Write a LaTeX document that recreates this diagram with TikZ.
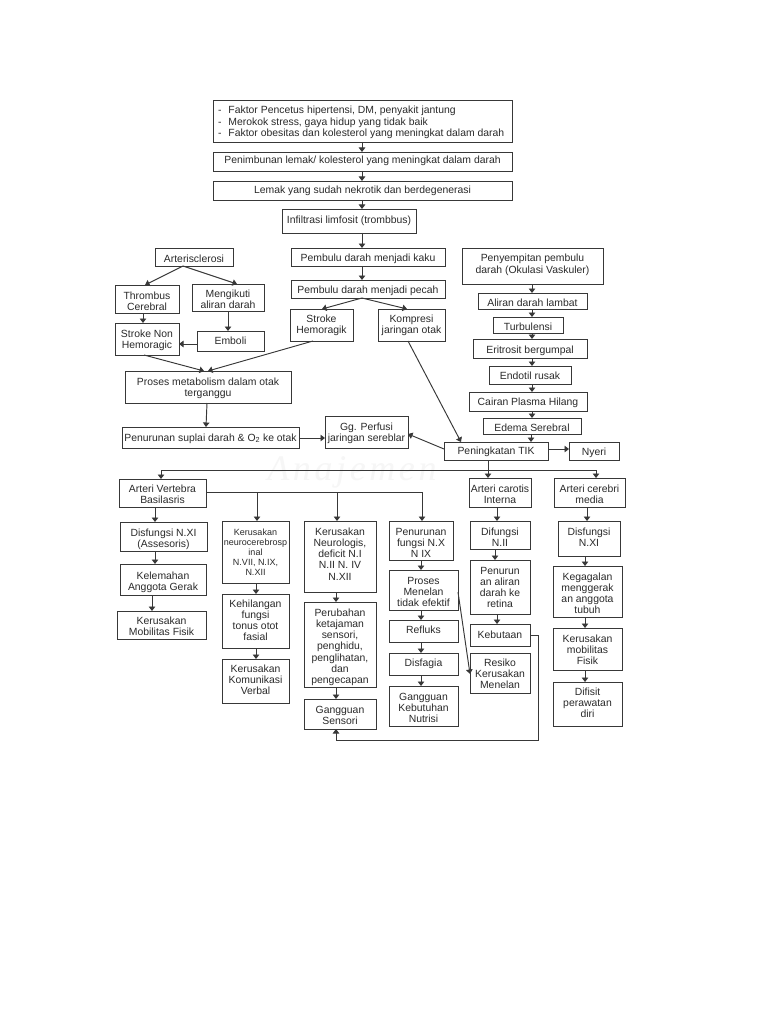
\documentclass[tikz,border=0pt]{standalone}
\usepackage{fontspec}
\setmainfont{Liberation Sans}
\newfontfamily\wmfont[LetterSpace=10]{Liberation Serif}
\usetikzlibrary{arrows.meta}
\definecolor{ink}{HTML}{383838}
\definecolor{txt}{HTML}{2A2A2A}
\definecolor{wm}{HTML}{F6F6F6}
\tikzset{
  boxst/.style={draw=ink,line width=0.95pt,inner sep=0pt,outer sep=0pt,text=txt,rectangle},
  arr/.style={draw=ink,line width=0.95pt,-{Triangle[length=4.5pt,width=6.5pt]}},
}
\newcommand{\txtsize}{\fontsize{10.4}{11.3}\selectfont}
\newcommand{\bx}[8][\txtsize]{%
  \pgfmathsetmacro\bw{#5-#3}\pgfmathsetmacro\bh{#6-#4}\pgfmathsetmacro\bT{#7-#4-4}%
  \pgfmathsetmacro\bcx{(#3+#5)/2}\pgfmathsetmacro\bcy{(#4+#6)/2}%
  \node[boxst] (#2) at (\bcx,\bcy) {\parbox[c][\bh pt][t]{\bw pt}{#1\vspace*{\bT pt}\centering\rule{0pt}{8pt}#8}};}
\newcommand{\vv}[3]{\draw[arr] (#3,0 |- #1.south) -- (#3,0 |- #2.north);}
\begin{document}
\begin{tikzpicture}[x=1pt,y=-1pt]
\fill[white] (0,0) rectangle (768,1024);
\useasboundingbox (0,0) rectangle (768,1024);
\node[text=wm,inner sep=0pt] (watermark) at (352,472) {\wmfont\itshape\fontsize{36}{36}\selectfont Anajemen};
\bx{top}{213}{100}{512}{142}{110}{\raggedright\hspace*{5pt}-\hspace{7pt}Faktor Pencetus hipertensi, DM, penyakit jantung\\\hspace*{5pt}-\hspace{7pt}Merokok stress, gaya hidup yang tidak baik\\\hspace*{5pt}-\hspace{7pt}Faktor obesitas dan kolesterol yang meningkat dalam darah}
\bx{timbun}{213}{152}{512}{171}{160}{Penimbunan lemak/ kolesterol yang meningkat dalam darah}
\bx{lemak}{213}{181}{512}{200}{190}{Lemak yang sudah nekrotik dan berdegenerasi}
\bx{infil}{282}{209}{416}{233}{219}{Infiltrasi limfosit (trombbus)}
\bx{kaku}{291}{248}{445}{266}{257}{Pembulu darah menjadi kaku}
\bx{pecah}{291}{280}{445}{298}{289}{Pembulu darah menjadi pecah}
\bx{arsk}{155}{248}{233}{266}{258}{Arterisclerosi}
\bx{thromb}{115}{285}{179}{313}{295}{Thrombus\\Cerebral}
\bx{ikuti}{192}{284}{264}{311}{293}{Mengikuti\\aliran darah}
\bx{snon}{115}{323}{179}{355}{333}{Stroke Non\\Hemoragic}
\bx{emboli}{197}{331}{264}{351}{340}{Emboli}
\bx{shem}{290}{309}{353}{341}{318}{Stroke\\Hemoragik}
\bx{kompresi}{378}{309}{445}{341}{318}{Kompresi\\jaringan otak}
\bx{proses}{125}{371}{291}{403}{381}{Proses metabolism dalam otak\\terganggu}
\bx{suplai}{122}{427}{299}{448}{437}{Penurunan suplai darah \& O\textsubscript{2} ke otak}
\bx{perfusi}{325}{416}{408}{448}{426}{Gg. Perfusi\\jaringan sereblar}
\bx{sempit}{462}{248}{603}{284}{258}{Penyempitan pembulu\\darah (Okulasi Vaskuler)}
\bx{aliran}{478}{293}{587}{309}{302}{Aliran darah lambat}
\bx{turbul}{493}{317}{563}{333}{326}{Turbulensi}
\bx{eritro}{473}{339}{587}{358}{349}{Eritrosit bergumpal}
\bx{endotil}{489}{366}{571}{384}{375}{Endotil rusak}
\bx{cairan}{469}{392}{587}{411}{401}{Cairan Plasma Hilang}
\bx{edema}{483}{418}{581}{434}{427}{Edema Serebral}
\bx{tik}{444}{442}{548}{460}{450}{Peningkatan TIK}
\bx{nyeri}{569}{442}{619}{460}{451}{Nyeri}
\bx{vert}{119}{479}{206}{507}{488}{Arteri Vertebra\\Basilasris}
\bx{dxi}{120}{522}{207}{551}{532}{Disfungsi N.XI\\(Assesoris)}
\bx{lemah}{120}{564}{206}{595}{575}{Kelemahan\\Anggota Gerak}
\bx{kmob}{117}{611}{206}{639}{620}{Kerusakan\\Mobilitas Fisik}
\bx[\fontsize{9}{10}\selectfont]{neuro}{222}{521}{289}{583}{531}{Kerusakan\\neurocerebrosp\\inal\\N.VII, N.IX,\\N.XII}
\bx{hilang}{222}{594}{289}{648}{603}{Kehilangan\\fungsi\\tonus otot\\fasial}
\bx{kkom}{222}{659}{289}{703}{668}{Kerusakan\\Komunikasi\\Verbal}
\bx{nlog}{304}{521}{376}{592}{531}{Kerusakan\\Neurologis,\\deficit N.I\\N.II N. IV\\N.XII}
\bx{ubah}{304}{602}{376}{687}{612}{Perubahan\\ketajaman\\sensori,\\penghidu,\\penglihatan,\\dan\\pengecapan}
\bx{sensori}{304}{699}{376}{729}{709}{Gangguan\\Sensori}
\bx{fungsi}{389}{521}{453}{560}{531}{Penurunan\\fungsi N.X\\N IX}
\bx{telan}{389}{570}{458}{610}{580}{Proses\\Menelan\\tidak efektif}
\bx{refluks}{389}{620}{458}{642}{629}{Refluks}
\bx{disfagia}{389}{653}{458}{675}{662}{Disfagia}
\bx{nutrisi}{389}{686}{458}{726}{696}{Gangguan\\Kebutuhan\\Nutrisi}
\bx{carotis}{469}{478}{531}{507}{488}{Arteri carotis\\Interna}
\bx{difu}{470}{521}{530}{549}{531}{Difungsi\\N.II}
\bx{retina}{470}{560}{530}{614}{570}{Penurun\\an aliran\\darah ke\\retina}
\bx{buta}{470}{624}{530}{646}{634}{Kebutaan}
\bx{resiko}{470}{653}{530}{693}{662}{Resiko\\Kerusakan\\Menelan}
\bx{media}{554}{478}{625}{507}{488}{Arteri cerebri\\media}
\bx{dxir}{558}{521}{620}{556}{531}{Disfungsi\\N.XI}
\bx{gagal}{553}{566}{622}{617}{576}{Kegagalan\\menggerak\\an anggota\\tubuh}
\bx{kmobr}{553}{628}{622}{670}{638}{Kerusakan\\mobilitas\\Fisik}
\bx{difisit}{553}{682}{622}{726}{691}{Difisit\\perawatan\\diri}
% connectors
\vv{top}{timbun}{362}\vv{timbun}{lemak}{362}\vv{lemak}{infil}{362}\vv{infil}{kaku}{362}\vv{kaku}{pecah}{362}
\coordinate (pecahfoot) at (362,0 |- pecah.south);
\draw[arr] (pecahfoot) -- (322,0 |- shem.north);
\draw[arr] (pecahfoot) -- (407,0 |- kompresi.north);
\coordinate (arskfoot) at (183,0 |- arsk.south);
\draw[arr] (arskfoot) -- (145,0 |- thromb.north);
\draw[arr] (arskfoot) -- (237,0 |- ikuti.north);
\vv{thromb}{snon}{143}\vv{ikuti}{emboli}{228}
\draw[arr] (emboli.west |- 0,344) -- (snon.east |- 0,344);
\draw[arr] (144,0 |- snon.south) -- (204,0 |- proses.north);
\draw[arr] (313,0 |- shem.south) -- (208,0 |- proses.north);
\draw[arr] (207,0 |- proses.south) -- (206,0 |- suplai.north);
\draw[arr] (suplai.east |- 0,438) -- (perfusi.west |- 0,438);
\draw[arr] (tik.west |- 0,449) -- (perfusi.east |- 0,434);
\draw[arr] (408,0 |- kompresi.south) -- (461,0 |- tik.north);
\vv{sempit}{aliran}{532}\vv{aliran}{turbul}{532}\vv{turbul}{eritro}{532}\vv{eritro}{endotil}{532}\vv{endotil}{cairan}{532}\vv{cairan}{edema}{532}\vv{edema}{tik}{531}
\draw[arr] (tik.east |- 0,449) -- (nyeri.west |- 0,449);
\coordinate (bus) at (488,470);
\draw[arr] (488,0 |- tik.south) -- (488,0 |- carotis.north);
\draw[arr] (bus) -| (596,0 |- media.north);
\draw[arr] (bus) -| (161,0 |- vert.north);
\coordinate (vbus) at (206,492);
\draw[arr] (vbus) -| (422,0 |- fungsi.north);
\draw[arr] (257,492) -- (257,0 |- neuro.north);
\draw[arr] (337,492) -- (337,0 |- nlog.north);
\vv{vert}{dxi}{155}\vv{dxi}{lemah}{155}\vv{lemah}{kmob}{152}
\vv{neuro}{hilang}{256}\vv{hilang}{kkom}{256}
\vv{nlog}{ubah}{336}\vv{ubah}{sensori}{336}
\vv{fungsi}{telan}{421}\vv{telan}{refluks}{421}\vv{refluks}{disfagia}{421}\vv{disfagia}{nutrisi}{421}
\draw[arr] (telan.east |- 0,592) -- (resiko.west |- 0,674);
\vv{carotis}{difu}{497}\vv{difu}{retina}{495}\vv{retina}{buta}{497}
\draw[arr] (buta.east) -- (538,0 |- buta.east) -- (538,740) -- (336,740) -- (336,0 |- sensori.south);
\vv{media}{dxir}{587}\vv{dxir}{gagal}{585}\vv{gagal}{kmobr}{585}\vv{kmobr}{difisit}{585}
\end{tikzpicture}
\end{document}
